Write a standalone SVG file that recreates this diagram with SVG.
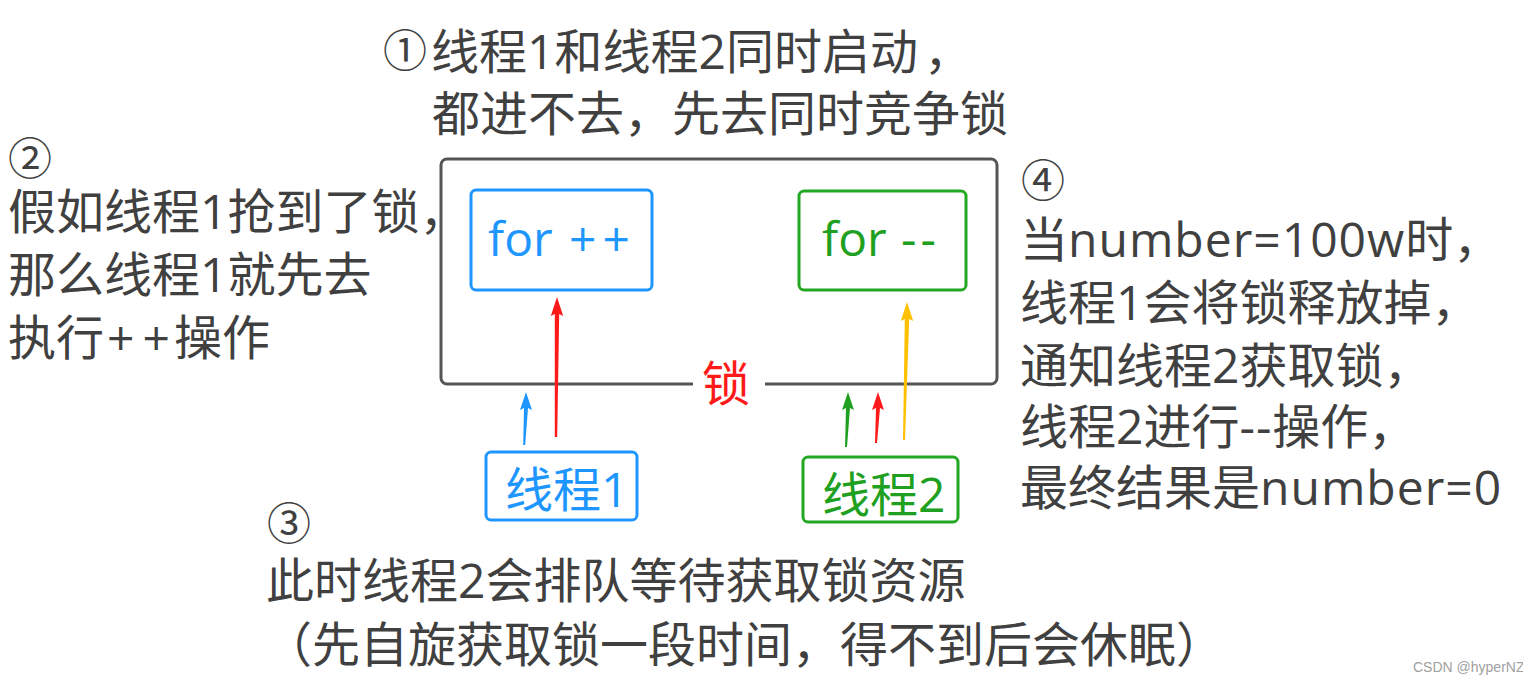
<svg xmlns="http://www.w3.org/2000/svg" width="1523" height="685" viewBox="0 0 1523 685">
<style>
  text { font-family: "Open Sans", "Noto Sans CJK SC", sans-serif; font-size: 48px; }
  .note { fill: #404040; }
  .num { font-size: 44px; }
  .lat { letter-spacing: 1px; }
  .blue { fill: #1e96ff; }
  .green { fill: #20a020; }
  .red { fill: #ff1a1a; }
  .bbox { fill: none; stroke: #1e96ff; stroke-width: 3; }
  .gbox { fill: none; stroke: #22a822; stroke-width: 3; }
  .lock { fill: none; stroke: #555; stroke-width: 3; }
  .wm { font-family: "Liberation Sans", Arial, sans-serif; font-size: 14px; fill: #a0a0a0; }
</style>
<rect width="1523" height="685" fill="#fff"/>

<g id="lock">
  <path class="lock" d="M693,384 H447 A6,6 0 0 1 441,378 V165 A6,6 0 0 1 447,159 H991 A6,6 0 0 1 997,165 V378 A6,6 0 0 1 991,384 H765"/>
  <text class="red" x="702" y="401">锁</text>
</g>

<g id="for-inc">
  <rect class="bbox" x="471" y="190" width="181" height="100" rx="5"/>
  <text class="blue" x="488" y="256">for <tspan dx="4">+</tspan><tspan dx="6">+</tspan></text>
</g>
<g id="for-dec">
  <rect class="gbox" x="799" y="191" width="167" height="99" rx="5"/>
  <text class="green" x="822" y="256">for <tspan dx="2">-</tspan><tspan dx="4">-</tspan></text>
</g>
<g id="thread1">
  <rect class="bbox" x="486" y="452" width="151" height="68" rx="5"/>
  <text class="blue" x="505" y="507">线程1</text>
</g>
<g id="thread2">
  <rect class="gbox" x="803" y="457" width="155" height="65" rx="5"/>
  <text class="green" x="822" y="512">线程2</text>
</g>

<g id="connectors">
  <path fill="#1e96ff" d="M523.2,445 L524,408 L520,410 L526,392 L532,410 L528,408 L525.2,445 Z"/>
  <path fill="#ff1a1a" d="M554.8,437 L554.8,314 L550.8,316 L557,297 L563.2,316 L559.2,314 L557.2,437 Z"/>
  <path fill="#20a020" d="M845,447 L846,408 L842,410 L848,392 L854,410 L850,408 L847,447 Z"/>
  <path fill="#ff1a1a" d="M875,443 L876,408 L872,410 L878,392 L884,410 L880,408 L877,443 Z"/>
  <path fill="#ffc000" d="M903,440 L904.8,319 L900.8,321 L907,302 L913.2,321 L909.2,319 L905,440 Z"/>
</g>

<g id="note1" class="note">
  <text x="383" y="67" class="num">①</text>
  <text x="431" y="69">线程1和线程2同时启动<tspan dx="6">，</tspan></text>
  <text x="432" y="131">都进不去，先去同时竞争锁</text>
</g>
<g id="note2" class="note">
  <text x="8" y="175" class="num">②</text>
  <text x="8" y="229">假如线程1抢到了锁，</text>
  <text x="8" y="292">那么线程1就先去</text>
  <text x="8" y="355">执行<tspan dx="3">+</tspan><tspan dx="8">+</tspan><tspan dx="4">操作</tspan></text>
</g>
<g id="note3" class="note">
  <text x="267" y="540" class="num">③</text>
  <text x="266" y="598">此时线程2会排队等待获取锁资源</text>
  <text x="264" y="662">（先自旋获取锁一段时间，得不到后会休眠）</text>
</g>
<g id="note4" class="note">
  <text x="1021" y="197" class="num">④</text>
  <text x="1020" y="257">当<tspan class="lat">number=100w</tspan>时，</text>
  <text x="1020" y="320">线程1会将锁释放掉，</text>
  <text x="1020" y="383">通知线程2获取锁，</text>
  <text x="1020" y="444">线程2进行<tspan class="lat">--</tspan>操作，</text>
  <text x="1020" y="505">最终结果是<tspan class="lat">number=0</tspan></text>
</g>

<text class="wm" x="1413" y="672">CSDN @hyperNZ</text>
</svg>
